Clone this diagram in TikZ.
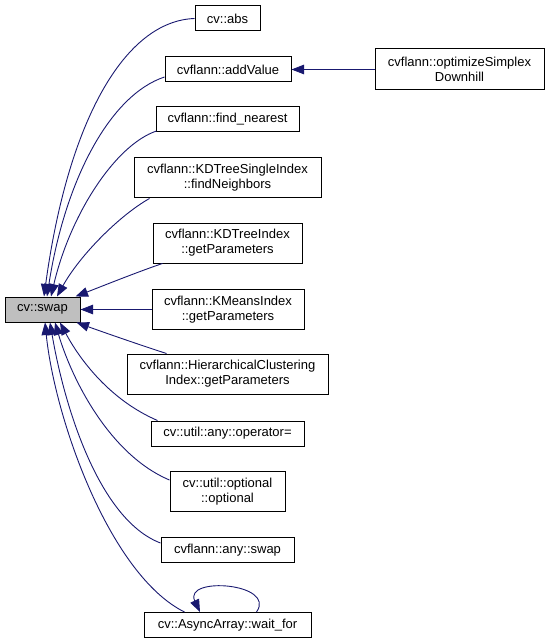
\documentclass[tikz,border=0pt]{standalone}
\usepackage{fontspec}
\setmainfont{Liberation Sans}
\usetikzlibrary{arrows.meta,calc}
\definecolor{edgecol}{HTML}{191970}
\begin{document}
\begin{tikzpicture}[x=1pt,y=-1pt,
  box/.style={draw=black, line width=1pt, fill=white, inner sep=0pt, align=center,
              font=\fontsize{13}{15}\selectfont},
  edge/.style={draw=edgecol, line width=0.9pt, -{Triangle[length=12.5pt,width=9.5pt]}}]
\useasboundingbox (0,0) rectangle (549,644);

\node[box, fill=gray!50, minimum width=75pt, minimum height=25pt] (swap) at (42.5,309.5) {cv::swap};
\node[box, minimum width=65pt, minimum height=25pt] (abs) at (227.5,18.5) {cv::abs};
\node[box, minimum width=126pt, minimum height=25pt] (addv) at (228,69.5) {cvflann::addValue};
\node[box, minimum width=143pt, minimum height=25pt] (fnear) at (227.5,119.5) {cvflann::find\_nearest};
\node[box, minimum width=187pt, minimum height=40pt] (fnb) at (227.5,178) {cvflann::KDTreeSingleIndex\\::findNeighbors};
\node[box, minimum width=149pt, minimum height=40pt] (kdt) at (227.5,243) {cvflann::KDTreeIndex\\::getParameters};
\node[box, minimum width=152pt, minimum height=40pt] (kmeans) at (228,309.5) {cvflann::KMeansIndex\\::getParameters};
\node[box, minimum width=201pt, minimum height=40pt] (hier) at (227.5,374) {cvflann::HierarchicalClustering\\Index::getParameters};
\node[box, minimum width=153pt, minimum height=25pt] (op) at (227.5,433.5) {cv::util::any::operator=};
\node[box, minimum width=115pt, minimum height=40pt] (opt) at (227.5,491.5) {cv::util::optional\\::optional};
\node[box, minimum width=133pt, minimum height=25pt] (aswap) at (227.5,550) {cvflann::any::swap};
\node[box, minimum width=167pt, minimum height=25pt] (wait) at (227.5,625) {cv::AsyncArray::wait\_for};
\node[box, minimum width=169pt, minimum height=41pt] (osd) at (459.5,69.5) {cvflann::optimizeSimplex\\Downhill};

\draw[edge] (abs.west) .. controls (125,21) and (68,120) .. ($(swap.north)+(1.5,0)$);
\draw[edge] ($(addv.west)+(0,7.5)$) .. controls (110,95) and (65,180) .. ($(swap.north)+(4.5,0)$);
\draw[edge] ($(fnear.west)+(1,11.5)$) .. controls (115,145) and (70,215) .. ($(swap.north)+(8.5,0)$);
\draw[edge] ($(fnb.south west)+(16,0)$) .. controls (120,215) and (80,255) .. ($(swap.north)+(14.5,0)$);
\draw[edge] ($(kdt.south west)+(10,0)$) .. controls (140,271) and (100,287) .. ($(swap.north east)+(-5,0)$);
\draw[edge] (kmeans.west) -- (swap.east);
\draw[edge] ($(hier.north west)+(40,0)$) .. controls (140,345) and (100,331) .. ($(swap.south east)+(-4,0)$);
\draw[edge] ($(op.north west)+(7,0)$) .. controls (110,400) and (80,360) .. ($(swap.south)+(17.5,0)$);
\draw[edge] ($(opt.west)+(0,-11.5)$) .. controls (110,455) and (72,380) .. ($(swap.south)+(12.5,0)$);
\draw[edge] ($(aswap.west)+(0,-7)$) .. controls (100,520) and (65,410) .. ($(swap.south)+(7.5,0)$);
\draw[edge] ($(wait.north west)+(41,0)$) .. controls (110,575) and (55,420) .. ($(swap.south)+(2.5,0)$);
\draw[edge] ($(wait.north)+(29,0)$) .. controls (277,583) and (183,576) .. ($(wait.north)+(-27.5,0)$);
\draw[edge] (osd.west) -- (addv.east);
\end{tikzpicture}
\end{document}
